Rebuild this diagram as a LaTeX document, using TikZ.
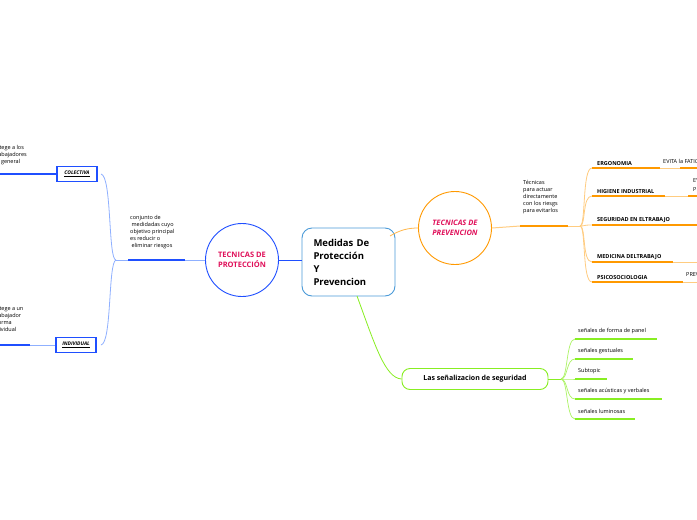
\documentclass[tikz,border=0pt]{standalone}
\usepackage{fontspec}
\setmainfont{Open Sans}
\definecolor{bl}{HTML}{1F4FFF}
\definecolor{lbl}{HTML}{8FB0FF}
\definecolor{cbl}{HTML}{4A9AD8}
\definecolor{org}{HTML}{FF9900}
\definecolor{lorg}{HTML}{FFCC80}
\definecolor{grn}{HTML}{88EE22}
\definecolor{mag}{HTML}{E0105A}
\begin{document}
\begin{tikzpicture}[x=1pt,y=-1pt,
  sm/.style={font=\fontsize{5.5}{7}\selectfont,align=left,inner sep=0pt,anchor=north west},
  item/.style={font=\fontsize{5.5}{7}\selectfont\bfseries,inner sep=0pt,anchor=south west},
  gitem/.style={font=\fontsize{5.5}{7}\selectfont,inner sep=0pt,anchor=south west},
  circ/.style={circle,draw,line width=0.9pt,minimum size=73pt,inner sep=0pt,align=center,text=mag,font=\fontsize{7.5}{9.5}\selectfont\bfseries},
  sbox/.style={draw=bl,line width=1.6pt,minimum width=40pt,minimum height=15pt,inner sep=0pt,font=\fontsize{5}{6}\selectfont\bfseries\itshape,
    append after command={\pgfextra{\draw[white,line width=0.5pt] (\tikzlastnode.south west) rectangle (\tikzlastnode.north east);}}}]
\clip (0,0) rectangle (697,520);
\fill[white] (0,0) rectangle (697,520);
% central
\node[draw=cbl,line width=0.9pt,rounded corners=10pt,minimum width=93pt,minimum height=68pt,text width=70pt,align=left,font=\fontsize{9.5}{13}\selectfont\bfseries] (c) at (348.5,262) {Medidas De\\Protección\\Y\\Prevencion};
% protection
\node[circ,draw=bl] (p) at (242,260) {TECNICAS DE\\PROTECCIÓN};
\draw[bl,line width=1pt] (c.west|-0,260) -- (p.east);
\coordinate (pu) at (185,260);
\draw[lbl,line width=1pt] (p.west) -- (pu);
\draw[bl,line width=1.2pt] (pu) -- (128,260);
\draw[lbl,line width=1pt] (128,260) -- (116,260);
\node[sm] (pt) at (130,215) {conjunto de\\\ medidadas cuyo\\objetivo principal\\es reducir o\\\ eliminar riesgos};
\node[sbox] (col) at (77,174) {\underline{COLECTIVA}};
\node[sbox] (ind) at (76,345) {\underline{INDIVIDUAL}};
\draw[lbl,line width=0.8pt] (116,260) .. controls (108,260) and (112,176) .. (101,174);
\draw[lbl,line width=0.8pt] (116,260) .. controls (108,262) and (112,343) .. (101,345);
\draw[bl,line width=1.2pt] (col.west) -- (33,174); \draw[bl,line width=1.2pt] (33,174) -- (0,174);
\draw[lbl,line width=1pt] (ind.west) -- (30,345); \draw[bl,line width=1.2pt] (30,345) -- (0,345);
\node[sm] (ct) at (-4,145) {otege a los\\rabajadores\\n general};
\node[sm] (it) at (-4,307) {otege a un\\rabajador\\forma\\dividual};
% prevention
\node[circ,draw=org,font=\fontsize{7.5}{9.5}\selectfont\bfseries\itshape] (v) at (455,228) {TECNICAS DE\\PREVENCION};
\draw[org!70,line width=0.8pt] (390,236) .. controls (400,230) and (408,228) .. (v.west);
\coordinate (vb) at (580,226);
\draw[lorg,line width=1pt] (v.east) -- (520,226);
\draw[org,line width=1.2pt] (520,226) -- (568,226);
\draw[lorg,line width=1pt] (568,226) -- (vb);
\node[sm] (vt) at (523,180) {Técnicas\\para actuar\\directamente\\con los riesgs\\para evitarlos};
\foreach \y/\t/\e in {168/ERGONOMIA/660,196/HIGIENE INDUSTRIAL/665,225/SEGURIDAD EN ELTRABAJO/697,262/MEDICINA DELTRABAJO/673,282/PSICOSOCIOLOGIA/683}{
  \draw[lorg,line width=0.8pt] (vb) .. controls (586,226) and (582,\y) .. (592,\y);
  \draw[org,line width=1.2pt] (592,\y) -- (\e,\y);
  \node[item] at (597,\y-2.5) {\t};}
\draw[lorg,line width=1pt] (660,168) -- (680,168); \draw[org,line width=1.2pt] (680,168) -- (697,168);
\draw[lorg,line width=1pt] (665,196) -- (688,196); \draw[org,line width=1.2pt] (688,196) -- (697,196);
\draw[lorg,line width=1pt] (683,282) -- (697,282);
\draw[lorg,line width=1pt] (673,262) -- (697,262);
\node[gitem] (e1) at (663,164) {EVITA la FATIGA};
\node[gitem] (e2) at (693,183) {EVITA};
\node[gitem] (e3) at (693,192) {PREVIENE};
\node[gitem] (e4) at (686,277) {PREVIENE};
% senalizacion
\node[draw=grn,line width=0.9pt,rounded corners=8pt,minimum width=146pt,minimum height=21pt,font=\fontsize{7}{9}\selectfont\bfseries] (s) at (475,379) {Las señalizacion de seguridad};
\draw[grn,line width=0.8pt] (357,296) .. controls (375,345) and (385,378) .. (s.west);
\coordinate (sb) at (561,379);
\draw[grn,line width=1pt] (s.east) -- (sb);
\foreach \y/\t/\e in {339/señales de forma de panel/657,359/señales gestuales/633,379/Subtopic/607,399/señales acústicas y verbales/662,419/señales luminosas/635}{
  \draw[grn!70,line width=0.7pt] (sb) .. controls (568,379) and (566,\y) .. (575,\y);
  \draw[grn,line width=1.2pt] (575,\y) -- (\e,\y);
  \node[gitem] at (578,\y-5) {\t};}
\end{tikzpicture}
\end{document}
